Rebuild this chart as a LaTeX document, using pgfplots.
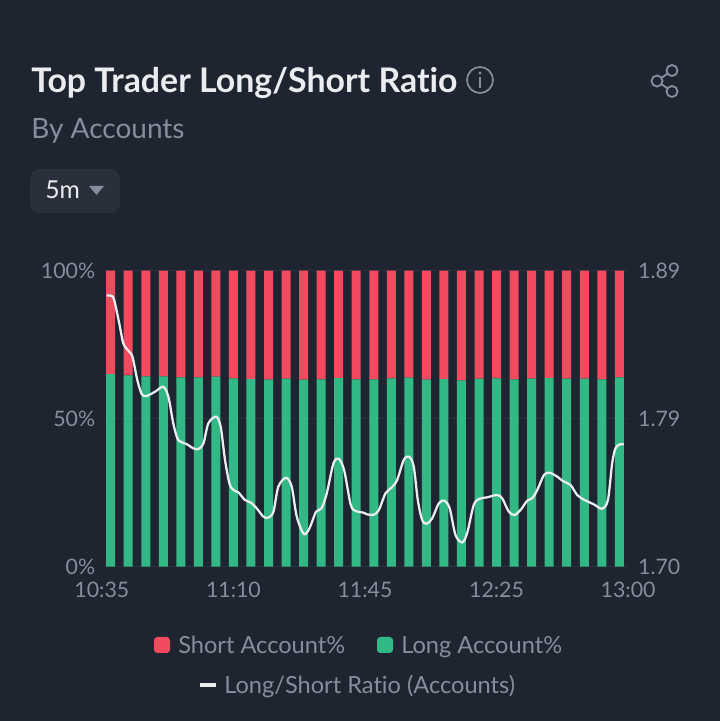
\documentclass[border=0pt]{standalone}
\usepackage{pgfplots}
\usepackage{fontspec}
\pgfplotsset{compat=1.18}
\setmainfont[Ligatures=NoCommon,RawFeature={-liga;-dlig}]{Lato}
\definecolor{bg}{HTML}{1F2530}
\definecolor{btn}{HTML}{2A303B}
\definecolor{redb}{HTML}{F34A60}
\definecolor{greenb}{HTML}{31B885}
\definecolor{linew}{HTML}{EAECEF}
\definecolor{gtxt}{HTML}{848E9C}
\definecolor{gridc}{HTML}{2B323C}
\definecolor{titlec}{HTML}{EAECEF}
\begin{document}
\begin{tikzpicture}
\begin{scope}[x=0.75pt,y=0.75pt]
\fill[bg] (0,0) rectangle (720,721);
\useasboundingbox (0,0) rectangle (720,721);
\node[anchor=base west,inner sep=0pt,text=titlec,font=\fontsize{25.4pt}{28pt}\selectfont\bfseries] at (31,628) {Top Trader Long/Short Ratio};
\node[anchor=base west,inner sep=0pt,text=gtxt,font=\fontsize{21pt}{24pt}\selectfont] at (31,582) {By Accounts};
\fill[btn,rounded corners=7.5pt] (30,508) rectangle (120,552);
\node[anchor=base west,inner sep=0pt,text=titlec,font=\fontsize{18.5pt}{22pt}\selectfont] at (45,522) {5m};
\fill[gtxt] (89,535) -- (104,535) -- (96.5,526) -- cycle;
% info icon
\draw[gtxt,line width=1.3pt] (480,641) circle (13);
\fill[gtxt] (480,648) circle (1.6);
\fill[gtxt] (478.6,633) rectangle (481.4,644);
% share icon
\draw[gtxt,line width=1.4pt] (672,650.5) circle (5.5) (657,640) circle (5.5) (672,629.5) circle (5.5);
\draw[gtxt,line width=1.4pt] (667.5,647.5) -- (661.5,643) (661.5,637) -- (667.5,632.5);
% legend
\fill[redb,rounded corners=2.5pt] (154,68) rectangle (170,84);
\node[anchor=base west,inner sep=0pt,text=gtxt,font=\fontsize{17.7pt}{20pt}\selectfont] at (178,67) {Short Account\%};
\fill[greenb,rounded corners=2.5pt] (377,68) rectangle (393,84);
\node[anchor=base west,inner sep=0pt,text=gtxt,font=\fontsize{17.7pt}{20pt}\selectfont] at (401,67) {Long Account\%};
\fill[linew] (200,33.5) rectangle (216,37.5);
\node[anchor=base west,inner sep=0pt,text=gtxt,font=\fontsize{17.7pt}{20pt}\selectfont] at (224,27) {Long/Short Ratio (Accounts)};
\end{scope}
\begin{axis}[
  at={(76.425pt,115.725pt)},anchor=south west,
  scale only axis,width=394.65pt,height=222pt,
  xmin=-0.5,xmax=29.5,ymin=0,ymax=100,
  ybar stacked,bar width=6.75pt,
  axis line style={draw=none},major tick length=0pt,
  xtick={-0.5,7,14.5,22,29.5},
  xticklabels={10:35,11:10,11:45,12:25,13:00},
  ytick={0,50,100},yticklabels={0\%,50\%,100\%},
  ymajorgrids,grid style={gridc,line width=1pt},
  tick label style={text=gtxt,font=\fontsize{16pt}{19pt}\selectfont},
  xticklabel style={yshift=-8pt},
  yticklabel style={xshift=-1.5pt},
  clip=false,
]
\addplot[fill=greenb,draw=none] coordinates {
(0,65.09)(1,64.64)(2,64.30)(3,64.30)(4,63.96)(5,63.96)(6,64.19)(7,63.63)(8,63.40)(9,63.18)
(10,63.51)(11,63.18)(12,63.29)(13,63.74)(14,63.29)(15,63.29)(16,63.63)(17,63.85)(18,63.18)(19,63.40)
(20,62.95)(21,63.51)(22,63.63)(23,63.29)(24,63.51)(25,63.74)(26,63.51)(27,63.51)(28,63.29)(29,63.96)};
\addplot[fill=redb,draw=none] coordinates {
(0,34.91)(1,35.36)(2,35.70)(3,35.70)(4,36.04)(5,36.04)(6,35.81)(7,36.37)(8,36.60)(9,36.82)
(10,36.49)(11,36.82)(12,36.71)(13,36.26)(14,36.71)(15,36.71)(16,36.37)(17,36.15)(18,36.82)(19,36.60)
(20,37.05)(21,36.49)(22,36.37)(23,36.71)(24,36.49)(25,36.26)(26,36.49)(27,36.49)(28,36.71)(29,36.04)};
\end{axis}
\begin{axis}[
  at={(76.425pt,115.725pt)},anchor=south west,
  scale only axis,width=394.65pt,height=222pt,
  xmin=-0.5,xmax=29.5,ymin=1.70,ymax=1.89,
  axis y line*=right,axis x line=none,
  axis line style={draw=none},major tick length=0pt,
  ytick={1.70,1.795,1.89},yticklabels={1.70,1.79,1.89},
  tick label style={text=gtxt,font=\fontsize{16pt}{19pt}\selectfont},
  yticklabel style={xshift=4pt},
  clip=false,
]
\addplot[linew,line width=1.7pt,smooth,tension=0.5,no markers] coordinates {
(-0.23,1.8740)(0,1.8740)(0.19,1.8716)(0.49,1.8562)(0.72,1.8434)(1.01,1.8386)(1.24,1.8348)(1.52,1.8198)(1.77,1.8108)(2.02,1.8095)
(2.53,1.8123)(3.00,1.8155)(3.29,1.8091)(3.57,1.7920)(3.80,1.7824)(3.99,1.7802)(4.33,1.7787)(4.71,1.7760)(5.00,1.7755)(5.29,1.7792)
(5.57,1.7920)(6.01,1.7963)(6.27,1.7899)(6.52,1.7685)(6.77,1.7535)(7.00,1.7492)(7.28,1.7477)(7.66,1.7428)(8.00,1.7411)(8.33,1.7374)
(8.71,1.7321)(8.99,1.7315)(9.28,1.7353)(9.56,1.7514)(10.0,1.7571)(10.32,1.7514)(10.61,1.7321)(11.01,1.7210)(11.33,1.7246)(11.71,1.7353)
(12.02,1.7374)(12.32,1.7471)(12.70,1.7663)(13.0,1.7693)(13.31,1.7620)(13.69,1.7396)(13.99,1.7357)(14.41,1.7347)(14.62,1.7336)(15,1.7334)
(15.29,1.7364)(15.67,1.7471)(16.01,1.7507)(16.33,1.7556)(16.71,1.7685)(17.02,1.7706)(17.28,1.7642)(17.51,1.7428)(17.76,1.7300)(18.02,1.7276)
(18.33,1.7310)(18.71,1.7407)(19.03,1.7424)(19.33,1.7374)(19.66,1.7203)(20.04,1.7156)(20.32,1.7214)(20.70,1.7396)(21.03,1.7436)(21.46,1.7445)
(22.03,1.7460)(22.32,1.7439)(22.70,1.7353)(23.02,1.7332)(23.37,1.7364)(23.75,1.7424)(24.03,1.7439)(24.32,1.7492)(24.70,1.7588)(25.02,1.7603)
(25.46,1.7578)(25.78,1.7550)(26.22,1.7524)(26.60,1.7460)(27.02,1.7428)(27.55,1.7400)(28.02,1.7372)(28.35,1.7428)(28.59,1.7663)(28.78,1.7760)
(29.02,1.7785)(29.25,1.7785)};
\end{axis}
\end{tikzpicture}
\end{document}
